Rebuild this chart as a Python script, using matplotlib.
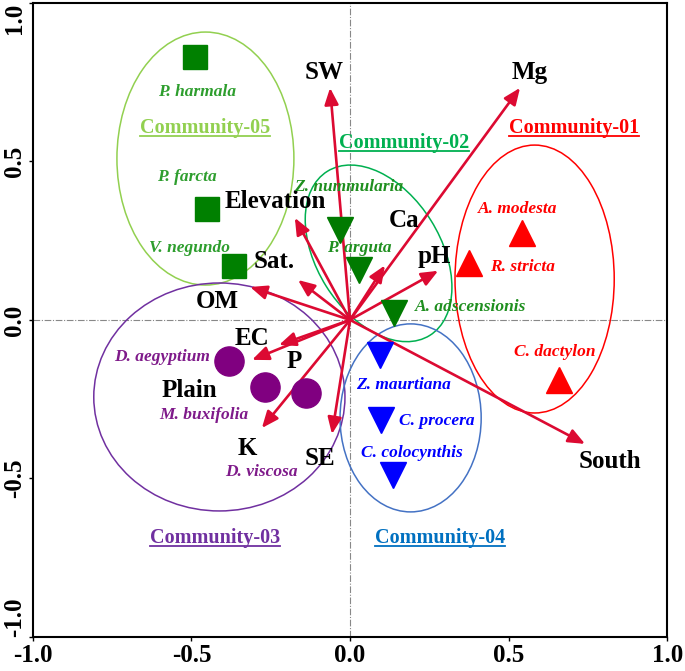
import numpy as np
import matplotlib
matplotlib.use("Agg")
import matplotlib.pyplot as plt
from matplotlib.patches import Ellipse

plt.rcParams['font.family'] = ['Liberation Serif', 'DejaVu Serif']

# environmental vectors (arrow tips) and their label positions
env_names = ["SW", "Mg", "Elevation", "Sat.", "OM", "Ca", "pH", "South", "SE", "K", "EC", "P"]
env_x = [-0.063, 0.536, -0.174, -0.164, -0.315, 0.110, 0.278, 0.741, -0.057, -0.278, -0.309, -0.224]
env_y = [0.732, 0.732, 0.322, 0.126, 0.104, 0.172, 0.155, -0.391, -0.360, -0.341, -0.126, -0.079]
env_lab_x = [-0.082, 0.565, -0.237, -0.240, -0.420, 0.170, 0.265, 0.820, -0.095, -0.325, -0.309, -0.177]
env_lab_y = [0.782, 0.779, 0.372, 0.183, 0.057, 0.315, 0.199, -0.448, -0.438, -0.404, -0.057, -0.132]
extra_labels = ["Plain"]
extra_x = [-0.508]
extra_y = [-0.221]

# species scores per community
c05_names = ["P. harmala", "P. farcta", "V. negundo"]
c05_x = [-0.489, -0.451, -0.366]
c05_y = [0.830, 0.350, 0.170]
c05_lx = [-0.483, -0.514, -0.505]
c05_ly = [0.720, 0.450, 0.227]

c02_names = ["Z. nummularia", "P. arguta", "A. adscensionis"]
c02_x = [-0.032, 0.028, 0.139]
c02_y = [0.284, 0.158, 0.022]
c02_lx = [-0.003, 0.030, 0.380]
c02_ly = [0.420, 0.227, 0.041]

c01_names = ["A. modesta", "R. stricta", "C. dactylon"]
c01_x = [0.543, 0.375, 0.660]
c01_y = [0.274, 0.180, -0.189]
c01_lx = [0.527, 0.543, 0.644]
c01_ly = [0.350, 0.167, -0.100]

c04_names = ["Z. maurtiana", "C. procera", "C. colocynthis"]
c04_x = [0.095, 0.098, 0.136]
c04_y = [-0.110, -0.315, -0.489]
c04_lx = [0.170, 0.274, 0.196]
c04_ly = [-0.205, -0.318, -0.420]

c03_names = ["D. aegyptium", "M. buxifolia", "D. viscosa"]
c03_x = [-0.382, -0.268, -0.139]
c03_y = [-0.129, -0.211, -0.230]
c03_lx = [-0.593, -0.460, -0.278]
c03_ly = [-0.117, -0.300, -0.480]

# community ellipses: center x, center y, width, height, angle
comm_names = ["Community-05", "Community-02", "Community-01", "Community-03", "Community-04"]
ell_cx = [-0.456, 0.090, 0.582, -0.412, 0.191]
ell_cy = [0.509, 0.210, 0.129, -0.243, -0.309]
ell_w = [0.558, 0.610, 0.502, 0.792, 0.445]
ell_h = [0.798, 0.390, 0.845, 0.719, 0.593]
ell_ang = [0, -58, 0, 0, 0]
ell_col = ["#92d050", "#00b050", "#ff0000", "#7030a0", "#4472c4"]
comm_lx = [-0.457, 0.170, 0.707, -0.426, 0.284]
comm_ly = [0.606, 0.558, 0.606, -0.688, -0.688]
comm_col = ["#92d050", "#00b050", "#ff0000", "#7030a0", "#0070c0"]

fig = plt.figure(figsize=(6.85, 6.71), dpi=100)
ax = fig.add_axes([0.048, 0.0507, 0.926, 0.945])
ax.set_xlim(-1, 1)
ax.set_ylim(-1, 1)

ax.axhline(0, color="#888888", lw=0.8, ls=(0, (6, 1.5, 1, 1.5)), zorder=0)
ax.axvline(0, color="#888888", lw=0.8, ls=(0, (6, 1.5, 1, 1.5)), zorder=0)

for i in range(len(comm_names)):
    ax.add_patch(Ellipse((ell_cx[i], ell_cy[i]), ell_w[i], ell_h[i], angle=ell_ang[i],
                         fill=False, ec=ell_col[i], lw=1.1, zorder=1))

arrow_col = "#dc0a32"
for i in range(len(env_names)):
    ax.annotate("", xy=(env_x[i], env_y[i]), xytext=(0, 0),
                arrowprops=dict(arrowstyle="-|>,head_length=1.0,head_width=0.42",
                                color=arrow_col, lw=1.9, shrinkA=0, shrinkB=0),
                zorder=3)
    ax.text(env_lab_x[i], env_lab_y[i], env_names[i], fontsize=18, fontweight="bold",
            ha="center", va="center", zorder=5)
for i in range(len(extra_labels)):
    ax.text(extra_x[i], extra_y[i], extra_labels[i], fontsize=18, fontweight="bold",
            ha="center", va="center", zorder=5)

groups = [
    (c05_names, c05_x, c05_y, c05_lx, c05_ly, "s", 17, "#008000", "#2e9e2e"),
    (c02_names, c02_x, c02_y, c02_lx, c02_ly, "v", 19, "#007a00", "#1f8f1f"),
    (c01_names, c01_x, c01_y, c01_lx, c01_ly, "^", 19, "#ff0000", "#ff0000"),
    (c04_names, c04_x, c04_y, c04_lx, c04_ly, "v", 19, "#0000ff", "#0000ff"),
    (c03_names, c03_x, c03_y, c03_lx, c03_ly, "o", 21, "#800080", "#7f1a8a"),
]
for names, xs, ys, lxs, lys, mk, ms, mc, tc in groups:
    ax.plot(xs, ys, ls="none", marker=mk, ms=ms, color=mc, mec=mc, zorder=4)
    for n, lx, ly in zip(names, lxs, lys):
        ax.text(lx, ly, n, fontsize=12.5, fontweight="bold", fontstyle="italic",
                color=tc, ha="center", va="center", zorder=5)

comm_texts = []
for i in range(len(comm_names)):
    t = ax.text(comm_lx[i], comm_ly[i], comm_names[i], fontsize=14.5, fontweight="bold",
                color=comm_col[i], ha="center", va="center", zorder=5)
    comm_texts.append(t)

ticks = [-1.0, -0.5, 0.0, 0.5, 1.0]
ax.set_xticks(ticks)
ax.set_yticks(ticks)
ax.set_xticklabels([f"{t:.1f}" for t in ticks], fontsize=18, fontweight="bold")
ylabs = ax.set_yticklabels([f"{t:.1f}" for t in ticks], fontsize=18, fontweight="bold",
                           rotation=90, va="center")
# end labels pushed inward like the original
ylabs[0].set_va("bottom")
ylabs[-1].set_va("top")
ax.tick_params(direction="out", length=3, width=1, pad=2)
for s in ax.spines.values():
    s.set_linewidth(1.5)

# underline community labels
fig.canvas.draw()
r = fig.canvas.get_renderer()
inv = ax.transData.inverted()
for t in comm_texts:
    bb = t.get_window_extent(renderer=r)
    (x0, y0), (x1, y1) = inv.transform([(bb.x0, bb.y0 + 2), (bb.x1, bb.y0 + 2)])
    ax.plot([x0, x1], [y0, y1], color=t.get_color(), lw=1.3, zorder=5)

fig.savefig("out.png", dpi=100)
